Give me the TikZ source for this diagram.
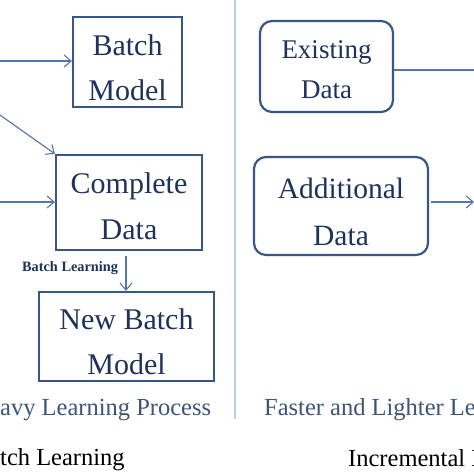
\documentclass[tikz,border=0pt]{standalone}
\usepackage{fontspec}
\setmainfont{Liberation Serif}
\usetikzlibrary{arrows.meta}
\definecolor{boxline}{RGB}{56,87,135}
\definecolor{textnavy}{RGB}{30,50,90}
\definecolor{arrowc}{RGB}{84,118,172}
\definecolor{captionc}{RGB}{62,84,120}
\definecolor{divider}{RGB}{185,205,228}
\begin{document}
\begin{tikzpicture}[x=1pt,y=-1pt,
  sqbox/.style={draw=boxline, line width=2.2pt, rectangle, inner sep=0pt},
  rdbox/.style={sqbox, rounded corners=12pt},
  boxtext/.style={text=textnavy, align=center, anchor=base, inner sep=0pt},
  caption/.style={text=captionc, anchor=base west, inner sep=0pt, font=\fontsize{24.5}{29}\selectfont},
  foot/.style={text=black, anchor=base west, inner sep=0pt, font=\fontsize{24.5}{29}\selectfont},
  conn/.style={draw=arrowc, line width=1.1pt},
  arr/.style={conn, -{Straight Barb[length=7pt,width=12pt]}},
]
\useasboundingbox (0,0) rectangle (474,474);
\clip (0,0) rectangle (474,474);
\fill[white] (0,0) rectangle (474,474);

% divider
\draw[divider, line width=2.5pt] (235,0) -- (235,419);

% boxes
\node[sqbox, minimum width=109pt, minimum height=90pt] (bm) at (127.5,62) {};
\node[sqbox, minimum width=146pt, minimum height=95pt] (cd) at (129,202.5) {};
\node[sqbox, minimum width=175pt, minimum height=89pt] (nb) at (126.5,336.5) {};
\node[rdbox, minimum width=133pt, minimum height=91pt] (ed) at (326.5,66.5) {};
\node[rdbox, minimum width=174pt, minimum height=98pt] (ad) at (341,206) {};

% box texts (base = baseline of the last line)
\node[boxtext, font=\fontsize{30}{45}\selectfont] (bmt) at (127.5,100) {Batch\\Model};
\node[boxtext, font=\fontsize{30}{46}\selectfont] (cdt) at (129,239) {Complete\\Data};
\node[boxtext, font=\fontsize{30}{45}\selectfont] (nbt) at (126.5,374) {New Batch\\Model};
\node[boxtext, font=\fontsize{27}{40}\selectfont] (edt) at (326.5,98) {Existing\\Data};
\node[boxtext, font=\fontsize{29.5}{47}\selectfont] (adt) at (341,245) {Additional\\Data};

% connectors left
\coordinate (in1) at (0,61);
\coordinate (in2) at (0,115);
\coordinate (in3) at (0,202);
\draw[arr] (in1) -- (in1 -| bm.west);
\draw[arr] (in2) -- (cd.north west);
\draw[arr] (in3) -- (in3 -| cd.west);

% batch learning arrow
\node[font=\bfseries\fontsize{14.3}{17}\selectfont, text=textnavy, anchor=base west, inner sep=0pt] (bl) at (22,271) {Batch Learning};
\coordinate (blA) at (126,256);
\draw[arr] (blA) -- (blA |- nb.north);

% connectors right
\coordinate (out1) at (474,70);
\coordinate (out2) at (474,202);
\draw[conn] (ed.east |- out1) -- (out1);
\draw[arr] ([xshift=2pt]ad.east |- out2) -- (out2);

% captions
\node[caption] (hv) at (0,415) {avy Learning Process};
\node[caption] (fl) at (264,415) {Faster and Lighter Le};
\node[foot] (bt) at (0,465) {tch Learning};
\node[foot] (il) at (348,466) {Incremental L};
\end{tikzpicture}
\end{document}
